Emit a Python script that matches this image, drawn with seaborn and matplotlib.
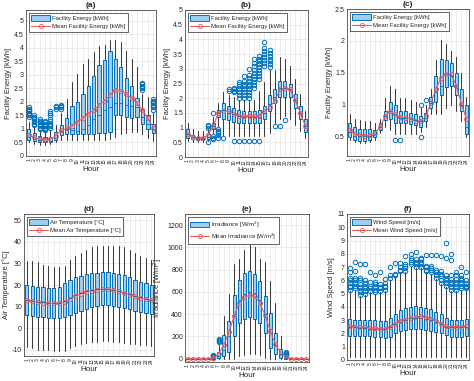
import numpy as np
import matplotlib
matplotlib.use("Agg")
import matplotlib.pyplot as plt
from matplotlib.patches import Patch
from matplotlib.lines import Line2D
import seaborn as sns

HOURS = list(range(1, 25))

# (a) Facility energy, site 1 [kWh]
a_lo = [0.50, 0.45, 0.42, 0.42, 0.45, 0.50, 0.60, 0.60, 0.60, 0.60, 0.60, 0.60, 0.60, 0.60, 0.60, 0.62, 0.70, 0.80, 0.85, 0.90, 0.90, 0.80, 0.65, 0.55]
a_q1 = [0.60, 0.55, 0.50, 0.50, 0.50, 0.58, 0.78, 0.82, 0.82, 0.82, 0.82, 0.82, 0.82, 0.85, 0.85, 0.90, 1.50, 1.50, 1.45, 1.40, 1.45, 1.20, 1.00, 0.85]
a_med = [0.70, 0.62, 0.58, 0.56, 0.56, 0.66, 0.92, 1.00, 0.95, 0.92, 1.00, 1.15, 1.35, 1.50, 1.70, 1.80, 1.95, 1.95, 1.90, 1.85, 1.80, 1.45, 1.20, 1.00]
a_q3 = [1.00, 0.85, 0.75, 0.72, 0.72, 0.90, 1.15, 1.40, 1.85, 2.00, 2.30, 2.60, 2.95, 3.35, 3.55, 3.90, 3.60, 3.30, 2.90, 2.60, 2.15, 1.75, 1.50, 1.20]
a_hi = [1.25, 1.10, 0.95, 0.92, 0.95, 1.15, 1.60, 2.10, 2.75, 3.05, 3.40, 3.60, 3.85, 4.05, 4.10, 4.30, 4.30, 4.20, 3.90, 3.60, 3.30, 2.30, 2.20, 1.60]
a_mean = [0.78, 0.70, 0.62, 0.60, 0.62, 0.75, 0.95, 1.02, 1.12, 1.25, 1.40, 1.55, 1.70, 1.88, 2.05, 2.25, 2.45, 2.40, 2.30, 2.15, 1.95, 1.70, 1.40, 1.05]
a_out = [
    [1.45, 1.5, 1.55, 1.6, 1.65, 1.7, 1.75, 1.8],
    [1.15, 1.2, 1.25, 1.3, 1.35, 1.4, 1.45, 1.5],
    [1.0, 1.05, 1.1, 1.15, 1.2, 1.25, 1.3, 1.35],
    [0.95, 1.0, 1.05, 1.1, 1.15, 1.2, 1.25, 1.3],
    [1.05, 1.1, 1.15, 1.2, 1.3, 1.35, 1.5, 1.6, 1.65],
    [1.75, 1.8, 1.85],
    [1.75, 1.8, 1.85, 1.9],
    [], [], [], [], [], [], [], [], [], [], [], [], [], [],
    [2.45, 2.5, 2.55, 2.6, 2.65, 2.7],
    [],
    [1.7, 1.8, 1.85, 1.9, 1.95, 2.0, 2.05, 2.1],
]

# (b) Facility energy, site 2 [kWh]
b_lo = [0.55, 0.50, 0.50, 0.50, 0.55, 0.80, 1.05, 0.75, 0.70, 0.70, 0.70, 0.70, 0.70, 0.70, 0.70, 0.70, 0.80, 1.15, 1.30, 1.40, 1.30, 1.10, 0.90, 0.65]
b_q1 = [0.65, 0.60, 0.58, 0.58, 0.62, 0.95, 1.35, 1.30, 1.25, 1.20, 1.15, 1.15, 1.15, 1.15, 1.15, 1.30, 1.55, 1.85, 2.05, 2.05, 2.05, 1.65, 1.30, 0.85]
b_med = [0.78, 0.67, 0.62, 0.62, 0.68, 1.05, 1.50, 1.60, 1.50, 1.45, 1.40, 1.35, 1.35, 1.35, 1.35, 1.50, 1.80, 2.05, 2.35, 2.35, 2.30, 1.95, 1.50, 1.05]
b_q3 = [0.95, 0.75, 0.68, 0.68, 0.78, 1.15, 1.60, 1.85, 1.75, 1.65, 1.60, 1.55, 1.55, 1.55, 1.60, 1.75, 2.10, 2.30, 2.60, 2.60, 2.50, 2.15, 1.75, 1.30]
b_hi = [1.15, 0.95, 0.90, 0.90, 0.95, 1.35, 1.85, 2.20, 2.10, 2.05, 1.95, 1.95, 1.95, 1.95, 2.25, 2.55, 2.95, 2.95, 3.40, 3.35, 3.10, 2.65, 2.15, 1.55]
b_mean = [0.78, 0.68, 0.63, 0.63, 0.75, 1.05, 1.50, 1.58, 1.55, 1.45, 1.40, 1.38, 1.38, 1.38, 1.40, 1.55, 1.70, 1.90, 2.30, 2.35, 2.30, 1.95, 1.50, 1.05]
b_out = [
    [], [], [], [],
    [0.5, 1.0, 1.05, 1.1],
    [0.6, 0.65, 0.7, 1.5],
    [0.65, 0.75, 0.8, 0.85, 0.9, 0.95],
    [0.65],
    [2.25, 2.3],
    [0.55, 2.2, 2.25, 2.3, 2.35],
    [0.55, 2.0, 2.1, 2.2, 2.3, 2.4, 2.5, 2.55],
    [0.55, 2.0, 2.1, 2.2, 2.3, 2.4, 2.5, 2.6, 2.75],
    [0.55, 2.0, 2.1, 2.2, 2.3, 2.4, 2.5, 2.6, 2.7, 2.8, 3.0],
    [0.55, 2.35, 2.45, 2.55, 2.65, 2.75, 2.85, 2.95, 3.1, 3.2, 3.35],
    [0.55, 2.65, 2.75, 2.85, 2.95, 3.05, 3.15, 3.25, 3.35, 3.45],
    [3.1, 3.2, 3.3, 3.4, 3.5, 3.6, 3.7, 3.9],
    [3.05, 3.15, 3.25, 3.35, 3.45, 3.55, 3.65],
    [1.05],
    [1.05],
    [1.25],
    [], [], [], [],
]

# (c) Facility energy, site 3 [kWh]
c_lo = [0.45, 0.42, 0.41, 0.41, 0.42, 0.45, 0.56, 0.65, 0.60, 0.55, 0.55, 0.55, 0.55, 0.55, 0.58, 0.65, 0.85, 0.85, 0.85, 0.95, 1.00, 0.90, 0.75, 0.50]
c_q1 = [0.50, 0.45, 0.43, 0.43, 0.45, 0.50, 0.60, 0.76, 0.78, 0.72, 0.72, 0.72, 0.70, 0.68, 0.66, 0.74, 0.95, 1.05, 1.15, 1.28, 1.30, 1.15, 0.90, 0.55]
c_med = [0.58, 0.52, 0.51, 0.51, 0.52, 0.55, 0.65, 0.83, 0.90, 0.85, 0.80, 0.80, 0.78, 0.76, 0.74, 0.80, 1.03, 1.20, 1.30, 1.48, 1.45, 1.30, 1.00, 0.65]
c_q3 = [0.72, 0.65, 0.62, 0.62, 0.62, 0.60, 0.71, 0.90, 1.05, 1.00, 0.90, 0.90, 0.88, 0.85, 0.82, 0.88, 1.12, 1.45, 1.72, 1.70, 1.65, 1.50, 1.25, 1.00]
c_hi = [0.86, 0.78, 0.76, 0.75, 0.75, 0.72, 0.78, 1.10, 1.30, 1.25, 1.10, 1.10, 1.08, 1.05, 0.95, 1.00, 1.25, 1.70, 2.02, 1.95, 1.85, 1.75, 1.50, 1.12]
c_mean = [0.61, 0.54, 0.53, 0.52, 0.53, 0.56, 0.65, 0.82, 0.90, 0.85, 0.81, 0.80, 0.78, 0.75, 0.74, 0.82, 1.03, 1.25, 1.42, 1.48, 1.48, 1.30, 1.02, 0.78]
c_out = [[], [], [], [], [], [], [], [], [], [0.45], [0.45], [], [], [],
         [0.5, 1.0], [1.08], [], [], [], [], [], [], [], []]

# (d) Air temperature [°C]
d_lo = [-9.0, -9.5, -10.0, -10.0, -10.3, -10.5, -10.8, -10.5, -9.5, -8.5, -7.5, -7.0, -6.5, -6.3, -6.2, -6.2, -6.3, -6.5, -7.0, -7.3, -7.5, -7.8, -8.0, -8.5]
d_q1 = [6.0, 5.5, 5.2, 5.0, 4.8, 4.7, 4.6, 5.0, 6.0, 7.0, 8.0, 9.0, 9.8, 10.3, 10.5, 10.5, 10.3, 10.0, 9.5, 8.8, 8.0, 7.5, 7.0, 6.5]
d_med = [13.0, 12.5, 12.0, 12.0, 11.8, 11.7, 11.6, 12.5, 14.0, 15.5, 16.5, 17.3, 17.8, 18.0, 18.2, 18.0, 17.7, 17.2, 16.5, 15.8, 15.0, 14.3, 13.7, 13.2]
d_q3 = [20.0, 19.6, 19.3, 19.0, 18.8, 18.7, 19.0, 21.0, 22.5, 23.5, 24.3, 25.0, 25.5, 25.8, 26.0, 26.0, 25.7, 25.2, 24.5, 23.5, 22.5, 21.5, 20.8, 20.2]
d_hi = [31.0, 31.0, 30.5, 29.5, 29.0, 28.5, 28.5, 29.0, 31.5, 33.5, 35.0, 36.5, 37.5, 38.0, 38.0, 38.0, 38.0, 38.0, 37.5, 36.5, 35.0, 33.5, 32.5, 31.5]
d_mean = [13.0, 12.5, 12.0, 11.8, 11.6, 11.5, 11.5, 12.2, 13.6, 15.0, 16.0, 16.8, 17.4, 17.8, 18.0, 18.0, 17.6, 17.0, 16.3, 15.5, 14.8, 14.0, 13.5, 13.1]
d_out = [[] for _ in HOURS]

# (e) Irradiance [W/m2]
e_lo = [0, 0, 0, 0, 0, 0, 0, 0, 0, 0, 20, 30, 40, 40, 30, 10, 0, 0, 0, 0, 0, 0, 0, 0]
e_q1 = [0, 0, 0, 0, 0, 0, 5, 20, 60, 200, 320, 360, 370, 360, 320, 230, 100, 40, 5, 0, 0, 0, 0, 0]
e_med = [0, 0, 0, 0, 0, 0, 20, 80, 200, 380, 530, 580, 600, 590, 530, 400, 270, 120, 40, 0, 0, 0, 0, 0]
e_q3 = [0, 0, 0, 0, 0, 0, 60, 210, 340, 570, 710, 770, 790, 760, 700, 560, 410, 230, 90, 5, 0, 0, 0, 0]
e_hi = [0, 0, 0, 0, 0, 0, 120, 380, 580, 850, 900, 980, 1020, 1000, 900, 870, 700, 500, 200, 10, 0, 0, 0, 0]
e_mean = [0, 0, 0, 0, 0, 3, 45, 120, 240, 380, 500, 550, 570, 560, 500, 390, 250, 130, 55, 12, 0, 0, 0, 0]
e_out = [[], [], [], [], [],
         [10, 15, 20, 25, 30],
         [150, 160, 170, 180],
         [], [], [], [], [], [], [], [], [], [], [], [],
         [20, 30, 40, 50, 60],
         [], [], [], []]

# (f) Wind speed [m/s]
f_lo = [0.2, 0.2, 0.2, 0.2, 0.2, 0.2, 0.2, 0.2, 0.2, 0.2, 0.2, 0.2, 0.2, 0.2, 0.2, 0.2, 0.2, 0.2, 0.2, 0.2, 0.2, 0.2, 0.2, 0.2]
f_q1 = [1.80, 1.80, 1.80, 1.80, 1.80, 1.75, 1.70, 1.65, 1.75, 2.00, 2.15, 2.25, 2.30, 2.35, 2.30, 2.25, 2.20, 2.10, 2.00, 1.85, 1.75, 1.75, 1.75, 1.80]
f_med = [2.45, 2.45, 2.40, 2.40, 2.35, 2.30, 2.30, 2.30, 2.45, 2.70, 2.90, 3.05, 3.15, 3.20, 3.15, 3.10, 3.00, 2.85, 2.70, 2.50, 2.45, 2.45, 2.45, 2.45]
f_q3 = [3.10, 3.05, 3.00, 3.00, 3.00, 3.00, 2.95, 2.95, 3.15, 3.50, 3.80, 3.95, 4.00, 4.05, 4.00, 3.95, 3.85, 3.65, 3.45, 3.15, 3.05, 3.05, 3.05, 3.10]
f_hi = [5.2, 5.3, 4.8, 4.9, 5.1, 5.0, 5.1, 5.2, 6.0, 6.3, 6.6, 6.6, 7.0, 6.9, 6.9, 6.6, 6.5, 6.1, 5.7, 5.5, 5.2, 5.2, 5.3, 5.3]
f_mean = [2.55, 2.50, 2.45, 2.45, 2.40, 2.40, 2.35, 2.35, 2.50, 2.75, 2.95, 3.05, 3.15, 3.25, 3.30, 3.20, 3.10, 2.95, 2.75, 2.55, 2.50, 2.50, 2.50, 2.55]
f_out = [
    [5.3, 5.5, 5.6, 5.8, 6.0, 6.2, 6.6, 6.9],
    [5.4, 5.6, 5.8, 6.0, 6.2, 6.7, 7.4],
    [4.9, 5.1, 5.3, 5.5, 5.7, 6.0, 6.2, 7.2],
    [5.0, 5.2, 5.4, 5.6, 5.8, 6.0, 7.2],
    [5.2, 5.4, 5.6, 5.9, 6.6],
    [5.1, 5.3, 5.5, 5.7, 5.9, 6.4],
    [5.2, 5.4, 5.5, 5.7, 6.6],
    [5.3, 5.5, 5.6, 5.8, 6.1],
    [6.2, 6.4, 7.0],
    [6.4, 6.5, 7.3],
    [6.7, 6.8, 7.0, 7.3],
    [6.7, 6.9, 7.1, 7.2, 7.8],
    [7.2, 7.4, 7.5, 7.7, 8.0],
    [7.0, 7.2, 7.4, 7.6, 8.1],
    [7.0, 7.2, 7.4, 7.6, 7.7],
    [6.7, 6.8, 7.0, 7.1, 7.9],
    [6.6, 6.8, 6.9, 7.1, 7.9],
    [6.2, 6.4, 6.6, 6.8, 7.9],
    [5.8, 6.0, 6.3, 6.5, 6.7, 7.8],
    [5.6, 5.8, 6.0, 6.2, 6.4, 7.7, 8.8],
    [5.3, 5.5, 5.7, 5.9, 6.1, 6.4, 7.5, 8.0],
    [5.3, 5.5, 5.7, 5.9, 6.1, 6.4, 6.6],
    [5.4, 5.6, 5.8, 6.0, 6.2, 6.4, 7.0],
    [5.4, 5.5, 5.6, 5.8, 6.0, 6.6],
]

BOX_FILL = "#9fcdf0"
BOX_EDGE = "#0072bd"
WHISK = "#3c3c3c"
MEAN_C = "#e25c62"

sns.set_theme(style="whitegrid")
plt.rcParams["font.family"] = ["Liberation Sans", "DejaVu Sans"]


def panel(ax, lo, q1, med, q3, hi, mean, out, name, unit, ylabel, title, ylim, yticks):
    stats = [dict(whislo=lo[i], q1=q1[i], med=med[i], q3=q3[i], whishi=hi[i],
                  fliers=np.array(out[i], dtype=float)) for i in range(24)]
    ax.bxp(stats, positions=HOURS, widths=0.6, patch_artist=True, showcaps=False,
           boxprops=dict(facecolor=BOX_FILL, edgecolor=BOX_EDGE, linewidth=0.7),
           whiskerprops=dict(color=WHISK, linewidth=0.75),
           medianprops=dict(color=BOX_EDGE, linewidth=0.6),
           flierprops=dict(marker="o", markerfacecolor="none", markeredgecolor=BOX_EDGE,
                           markersize=3.2, markeredgewidth=0.7))
    sns.lineplot(x=HOURS, y=mean, ax=ax, color=MEAN_C, linewidth=0.8, marker="o",
                 markersize=3, markerfacecolor="none", markeredgecolor=MEAN_C,
                 markeredgewidth=0.6)
    ax.set_xlim(0.5, 24.5)
    ax.set_ylim(*ylim)
    ax.set_yticks(yticks)
    ax.set_yticklabels([f"{v:g}" for v in yticks], fontsize=5.0)
    ax.set_xticks(HOURS)
    ax.set_xticklabels([str(h) for h in HOURS], rotation=90, fontsize=3.6)
    ax.tick_params(axis="both", direction="in", length=1.5, width=0.4, pad=1.5, colors="#262626")
    ax.grid(True, color="#e2e2e2", linewidth=0.45)
    ax.set_axisbelow(True)
    for s in ax.spines.values():
        s.set_color("#262626")
        s.set_linewidth(0.5)
    ax.set_xlabel("Hour", fontsize=5.8, labelpad=2, color="#262626")
    ax.set_ylabel(ylabel, fontsize=5.4, labelpad=1.5, color="#262626")
    ax.set_title(title, fontsize=6, fontweight="bold", pad=2)
    handles = [Patch(facecolor=BOX_FILL, edgecolor=BOX_EDGE, linewidth=0.7),
               Line2D([], [], color=MEAN_C, linewidth=0.8, marker="o", markersize=3,
                      markerfacecolor="none", markeredgewidth=0.6)]
    leg = ax.legend(handles, [f"{name} [{unit}]", f"Mean {name} [{unit}]"], loc="upper left",
                    fontsize=4.3, frameon=True, fancybox=False, edgecolor="#262626",
                    framealpha=1, handlelength=3.1, handleheight=1.1, borderpad=0.4,
                    labelspacing=0.35, handletextpad=0.4, borderaxespad=0.5)
    leg.get_frame().set_linewidth(0.5)


def rect(l, t, r, b):
    return [l / 474, 1 - b / 381, (r - l) / 474, (b - t) / 381]


fig = plt.figure(figsize=(4.74, 3.81), dpi=100)
fig.patch.set_facecolor("white")

ax = fig.add_axes(rect(26, 10, 156, 156))
panel(ax, a_lo, a_q1, a_med, a_q3, a_hi, a_mean, a_out, "Facility Energy", "kWh",
      "Facility Energy [kWh]", "(a)", (0, 5.4), np.arange(0, 5.01, 0.5))

ax = fig.add_axes(rect(185, 10, 308, 157))
panel(ax, b_lo, b_q1, b_med, b_q3, b_hi, b_mean, b_out, "Facility Energy", "kWh",
      "Facility Energy [kWh]", "(b)", (0, 5), np.arange(0, 5.01, 0.5))

ax = fig.add_axes(rect(347, 9, 469, 156))
panel(ax, c_lo, c_q1, c_med, c_q3, c_hi, c_mean, c_out, "Facility Energy", "kWh",
      "Facility Energy [kWh]", "(c)", (0.2, 2.5), np.arange(0.5, 2.51, 0.5))

ax = fig.add_axes(rect(24, 214, 154, 356))
panel(ax, d_lo, d_q1, d_med, d_q3, d_hi, d_mean, d_out, "Air Temperature", "°C",
      "Air Temperature [°C]", "(d)", (-13, 53), np.arange(-10, 51, 10))

ax = fig.add_axes(rect(185, 214, 309, 362))
panel(ax, e_lo, e_q1, e_med, e_q3, e_hi, e_mean, e_out, "Irradiance", "W/m$^2$",
      "Irradiance [W/m$^2$]", "(e)", (-30, 1300), np.arange(0, 1201, 200))

ax = fig.add_axes(rect(347, 214, 469, 360))
panel(ax, f_lo, f_q1, f_med, f_q3, f_hi, f_mean, f_out, "Wind Speed", "m/s",
      "Wind Speed [m/s]", "(f)", (0, 11), np.arange(0, 11.01, 1))

fig.savefig("out.png", dpi=100)
